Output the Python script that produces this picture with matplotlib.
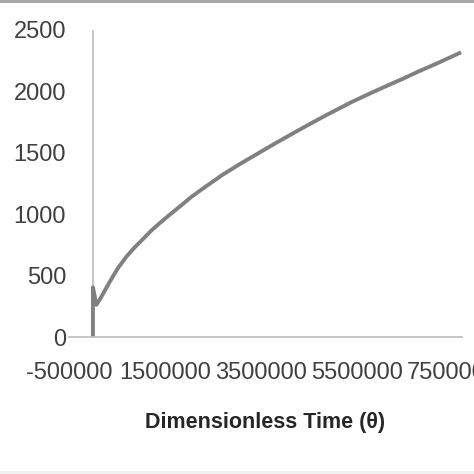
import matplotlib
matplotlib.use("Agg")
import matplotlib.pyplot as plt
from matplotlib.patches import Rectangle

# values (theta, dimensionless value)
theta = [0, 0, 70000, 150000, 250000, 380000, 520000, 700000, 870000,
         1050000, 1220000, 1430000, 1640000, 1850000, 2050000, 2280000,
         2700000, 3050000, 3400000, 3750000, 4090000, 4480000, 4860000,
         5390000, 5750000, 6100000, 6450000, 6780000, 7200000, 7680000]
value = [0, 405, 262, 310, 380, 470, 560, 655, 730,
         800, 868, 940, 1008, 1075, 1140, 1205,
         1320, 1405, 1485, 1565, 1640, 1725, 1805,
         1912, 1978, 2040, 2100, 2160, 2232, 2318]

x_ticks = [-500000, 1500000, 3500000, 5500000, 7500000]
y_ticks = [0, 500, 1000, 1500, 2000, 2500]

plt.rcParams["font.family"] = ["Liberation Sans", "DejaVu Sans"]

W = H = 474
fig = plt.figure(figsize=(W / 100, H / 100), dpi=100)
left, right, bottom, top = 69, 462, 337, 30
ax = fig.add_axes([left / W, 1 - bottom / H, (right - left) / W, (bottom - top) / H])

ax.plot(theta, value, color="#808080", lw=2.8, solid_capstyle="butt",
        solid_joinstyle="round")

ax.set_xlim(-500000, 7700000)
ax.set_ylim(0, 2500)
ax.set_xticks(x_ticks)
ax.set_xticklabels([str(t) for t in x_ticks])
ax.set_yticks(y_ticks)

for s in ["top", "right", "left"]:
    ax.spines[s].set_visible(False)
ax.spines["bottom"].set_color("#c0c0c0")
ax.spines["bottom"].set_linewidth(1.3)
ax.axvline(0, color="#c0c0c0", lw=1.3, zorder=0)

ax.tick_params(length=0, labelsize=17, colors="#404040")
ax.tick_params(axis="x", pad=18)
ax.tick_params(axis="y", pad=2)

ax.set_xlabel("Dimensionless Time (θ)", fontsize=15.5, fontweight="bold",
              color="#262626", labelpad=20)

# gray frame remnants of the original crop
fig.add_artist(Rectangle((0, 1 - 3 / H), 1, 3 / H, transform=fig.transFigure,
                         color="#a8a8a8", lw=0))
fig.add_artist(Rectangle((0, 0), 1, 3 / H, transform=fig.transFigure,
                         color="#f0f0f0", lw=0))

fig.savefig("out.png", dpi=100)
